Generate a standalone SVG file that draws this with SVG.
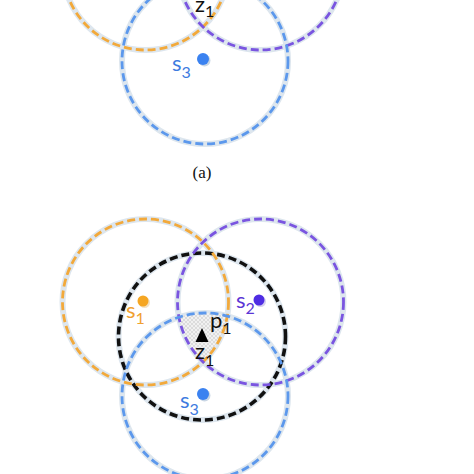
<svg xmlns="http://www.w3.org/2000/svg" width="474" height="474" viewBox="0 0 474 474">
<defs>
<style>
.halo{fill:none;stroke:#dde6ee;stroke-width:6}
.ring{fill:none;stroke-width:2.8;stroke-dasharray:8 4}
.or{stroke:#F2A93B}
.pu{stroke:#7A55E0}
.bl{stroke:#5C98EC}
.bk{fill:none;stroke:#111;stroke-width:3.6;stroke-dasharray:8 4}
.lbl{font-family:Lato,"Open Sans",sans-serif;font-size:22px}
.sub{font-size:16px}
</style>
<pattern id="hatch" width="4" height="4" patternUnits="userSpaceOnUse">
<rect width="4" height="4" fill="#f1f1f1"/>
<path d="M0,0 L4,4 M4,0 L0,4" stroke="#d2d2d2" stroke-width="0.7"/>
</pattern>
<clipPath id="cO"><circle cx="145.5" cy="302" r="83"/></clipPath>
<clipPath id="cP"><circle cx="260.5" cy="302" r="83"/></clipPath>
<clipPath id="cB"><circle cx="205" cy="396" r="83"/></clipPath>
</defs>
<rect width="474" height="474" fill="#fff"/>

<!-- (a) top figure -->
<g id="fig-a">
<g id="a-halos">
<circle class="halo" cx="145.5" cy="-33" r="83"/>
<circle class="halo" cx="260.5" cy="-33" r="83"/>
<circle class="halo" cx="205" cy="61" r="83"/>
</g>
<g id="a-range-s1"><circle class="ring or" cx="145.5" cy="-33" r="83"/></g>
<g id="a-range-s2"><circle class="ring pu" cx="260.5" cy="-33" r="83"/></g>
<g id="a-s3">
<circle class="ring bl" cx="205" cy="61" r="83"/>
<circle cx="204.5" cy="60.5" r="6" fill="#c9d6e4"/>
<circle cx="203" cy="59" r="6" fill="#3B82F0"/>
<text class="lbl" x="172" y="71" fill="#3E7BE0">s<tspan class="sub" dy="7">3</tspan></text>
</g>
<g id="a-z1">
<text class="lbl" x="195" y="12" fill="#111">z<tspan class="sub" dy="5">1</tspan></text>
</g>
<text id="caption-a" x="202" y="178" text-anchor="middle" font-family="'Liberation Serif',serif" font-size="17" fill="#111">(a)</text>
</g>

<!-- (b) bottom figure -->
<g id="fig-b">
<g id="b-halos">
<circle class="halo" cx="145.5" cy="302" r="83"/>
<circle class="halo" cx="260.5" cy="302" r="83"/>
<circle class="halo" cx="205" cy="396" r="83"/>
<circle class="halo" cx="202" cy="336.5" r="83.5"/>
</g>
<g id="b-overlap" clip-path="url(#cO)">
<g clip-path="url(#cP)">
<rect x="100" y="280" width="200" height="120" fill="url(#hatch)" clip-path="url(#cB)"/>
</g>
</g>
<g id="b-p1-range"><circle class="bk" cx="202" cy="336.5" r="83.5"/></g>
<g id="b-range-s1"><circle class="ring or" cx="145.5" cy="302" r="83"/></g>
<g id="b-range-s2"><circle class="ring pu" cx="260.5" cy="302" r="83"/></g>
<g id="b-range-s3"><circle class="ring bl" cx="205" cy="396" r="83"/></g>
<g id="b-s1">
<circle cx="144.5" cy="302.5" r="5.5" fill="#f3e2c4"/>
<circle cx="143" cy="301" r="5.5" fill="#F5A623"/>
<text class="lbl" x="126" y="318" fill="#F0A030">s<tspan class="sub" dy="6">1</tspan></text>
</g>
<g id="b-s2">
<circle cx="260.5" cy="301.5" r="5.5" fill="#d5d0ee"/>
<circle cx="259" cy="300" r="5.5" fill="#4F2DE3"/>
<text class="lbl" x="236" y="308" fill="#5B35D5">s<tspan class="sub" dy="6">2</tspan></text>
</g>
<g id="b-s3">
<circle cx="204.5" cy="395.5" r="6" fill="#c9d6e4"/>
<circle cx="203" cy="394" r="6" fill="#3B82F0"/>
<text class="lbl" x="180" y="408" fill="#3E7BE0">s<tspan class="sub" dy="7">3</tspan></text>
</g>
<g id="b-z1">
<polygon points="202,328 195.5,342 208.5,342" fill="#000"/>
<text class="lbl" x="195" y="359" fill="#111">z<tspan class="sub" dy="7">1</tspan></text>
</g>
<g id="b-p1">
<text class="lbl" x="210" y="328" fill="#111">p<tspan class="sub" dy="6">1</tspan></text>
</g>
</g>
</svg>
